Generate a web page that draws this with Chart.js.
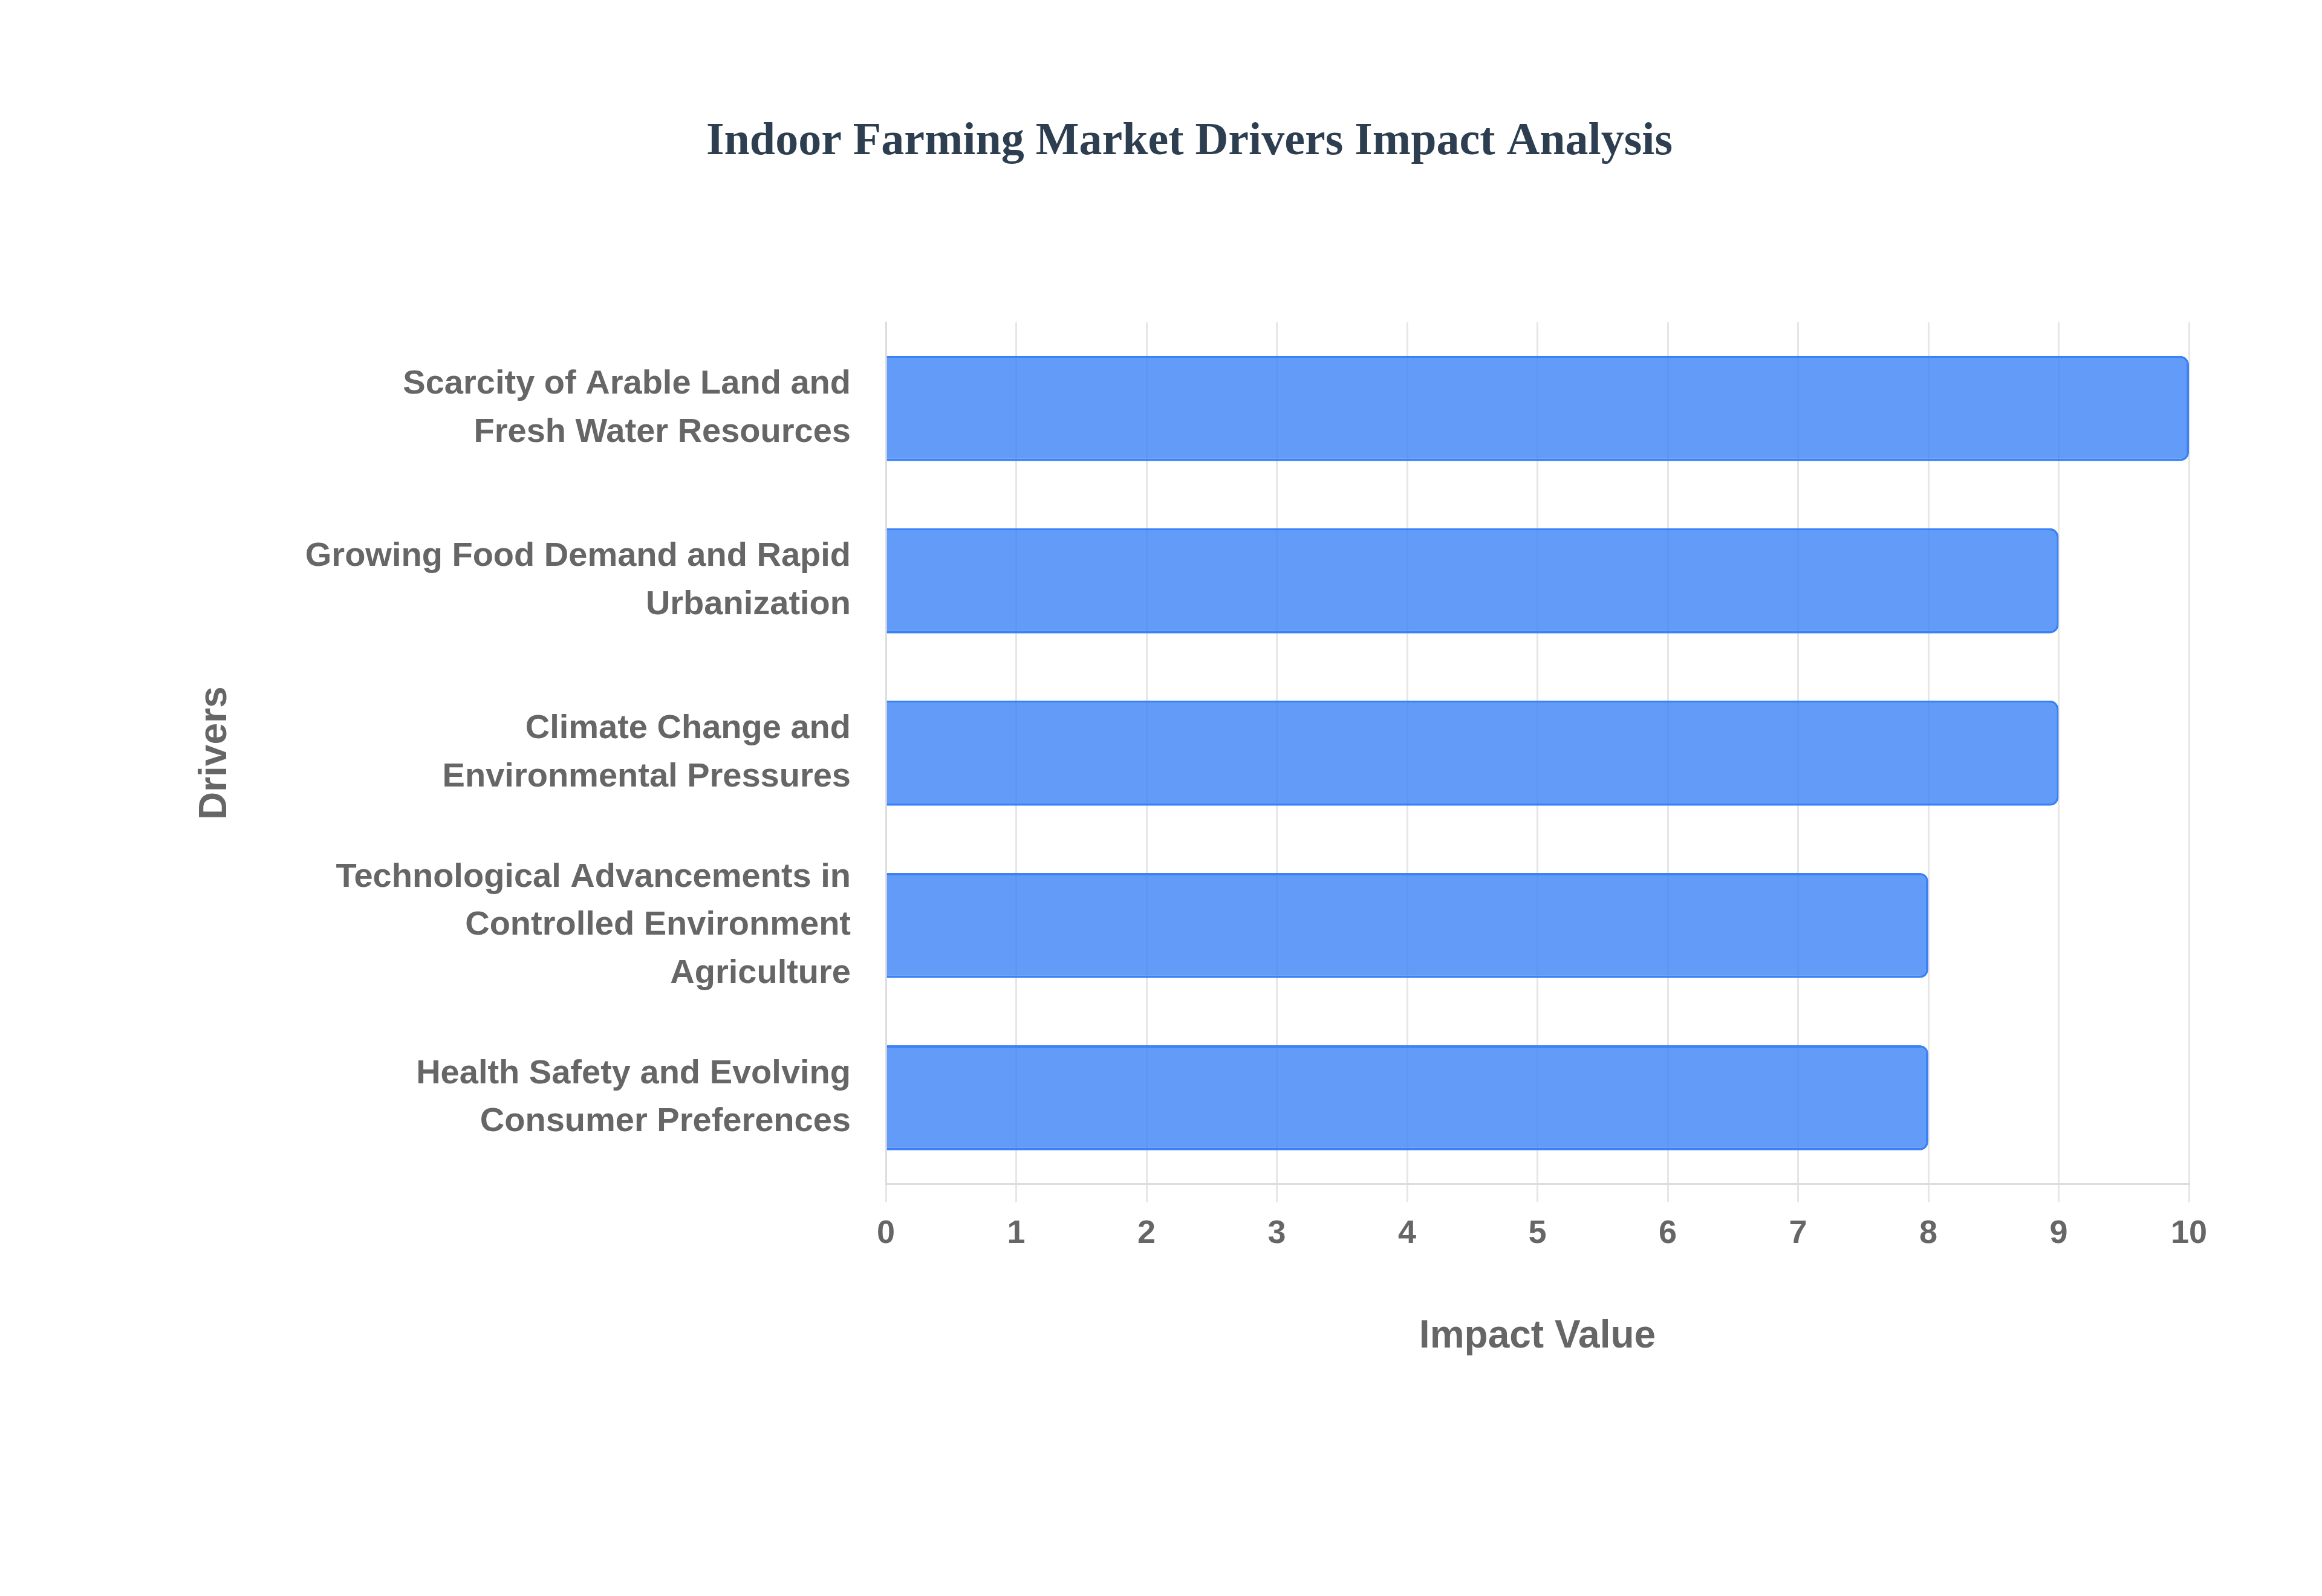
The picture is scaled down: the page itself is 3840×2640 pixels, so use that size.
<!DOCTYPE html>
<html><head><script src="https://cdn.jsdelivr.net/npm/chart.js@4"></script>
<style>body{margin:0;background:#fff}</style></head>
<body><canvas id="c" width="3840" height="2640"></canvas>
<script>
const categories=[["Scarcity of Arable Land and","Fresh Water Resources"],["Growing Food Demand and Rapid","Urbanization"],["Climate Change and","Environmental Pressures"],["Technological Advancements in","Controlled Environment","Agriculture"],["Health Safety and Evolving","Consumer Preferences"]];
const values=[10,9,9,8,8];
const xTicks=[0,1,2,3,4,5,6,7,8,9,10];
new Chart(document.getElementById('c'),{type:'bar',
data:{labels:categories,datasets:[{data:values,backgroundColor:'rgba(59,130,246,0.8)',borderColor:'#3b82f6',borderWidth:4,borderRadius:14,borderSkipped:'start',barPercentage:0.61,categoryPercentage:1}]},
options:{indexAxis:'y',responsive:false,devicePixelRatio:1,animation:false,
layout:{padding:{top:190,right:220,bottom:386,left:314}},
plugins:{legend:{display:false},title:{display:true,text:'Indoor Farming Market Drivers Impact Analysis',color:'#2c3e50',font:{family:'Liberation Serif',size:76,weight:'bold'},padding:{top:0,bottom:252}}},
scales:{x:{min:0,max:10,ticks:{stepSize:1,color:'#666',font:{family:'Liberation Sans',size:54,weight:'bold'},padding:20},grid:{color:'#e6e6e6',lineWidth:3,tickLength:30},border:{color:'#ddd',width:3},
title:{display:true,text:'Impact Value',color:'#666',font:{family:'Liberation Sans',size:64,weight:'bold'},padding:{top:80}}},
y:{ticks:{color:'#666',font:{family:'Liberation Sans',size:56,weight:'bold',lineHeight:1.42},padding:50},grid:{display:false},border:{color:'#ddd',width:3},
title:{display:true,text:'Drivers',color:'#666',font:{family:'Liberation Sans',size:64,weight:'bold'},padding:{bottom:60}}}}}});
</script></body></html>
